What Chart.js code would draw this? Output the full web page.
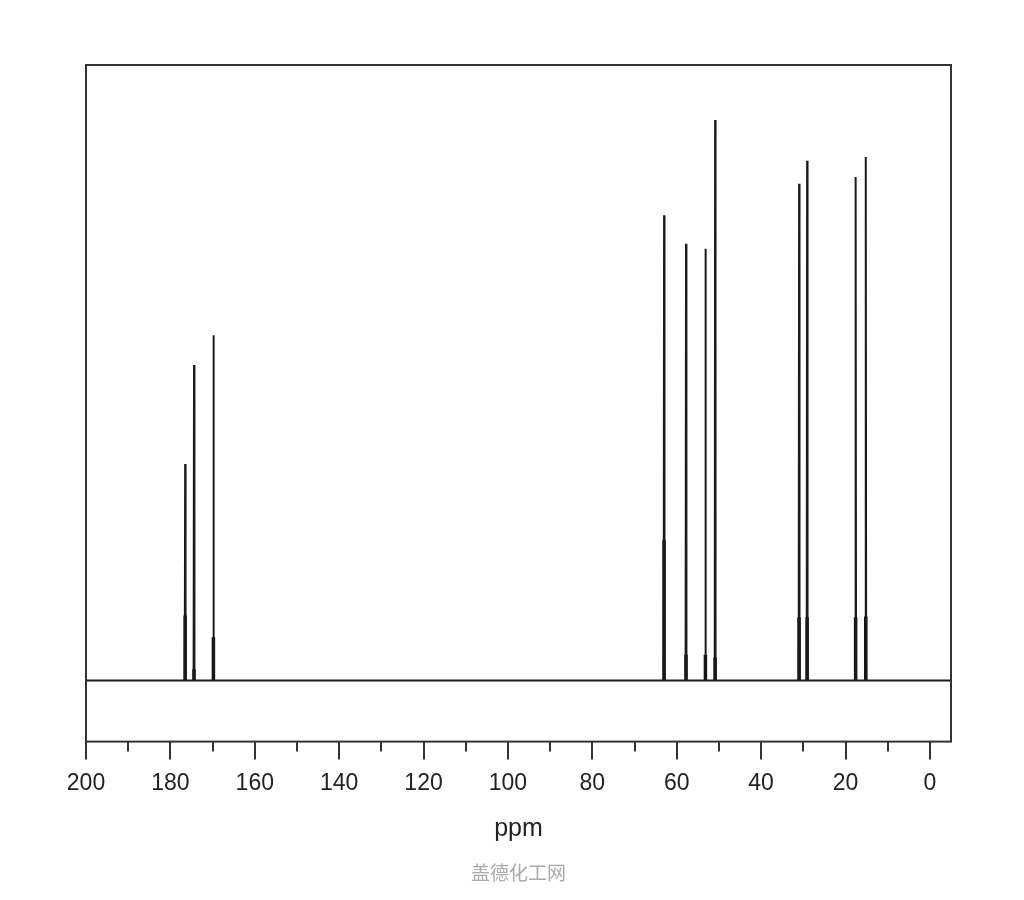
<!DOCTYPE html>
<html>
<head>
<meta charset="utf-8">
<script src="https://cdn.jsdelivr.net/npm/chart.js@4/dist/chart.umd.min.js"></script>
<style>
  body { margin: 0; background: #fff; }
</style>
</head>
<body>
<canvas id="nmrChart" width="1024" height="900"></canvas>
<script>
// 13C peaks (ppm) and relative heights (tallest = 100)
const peakPpm = [176.5, 174.4, 169.8, 63.0, 57.8, 53.2, 50.9, 31.0, 29.1, 17.6, 15.2];
const peakHeight = [38.6, 56.3, 61.6, 83.0, 77.9, 77.0, 100, 88.6, 92.7, 89.8, 93.4];
// heavier base part of each peak
const peakFoot = [11.6, 2.0, 7.7, 25.0, 4.6, 4.6, 4.1, 11.3, 11.3, 11.3, 11.4];
const ppmRange = [200, -5];
const xTicks = [200, 180, 160, 140, 120, 100, 80, 60, 40, 20, 0];

const spectrum = [{ x: ppmRange[0], y: 0 }];
peakPpm.forEach((p, i) => {
    spectrum.push({ x: p + 0.1, y: 0 }, { x: p, y: peakHeight[i] }, { x: p - 0.1, y: 0 });
});
spectrum.push({ x: ppmRange[1], y: 0 });

const feet = [];
peakPpm.forEach((p, i) => {
    feet.push({ x: p, y: 0 }, { x: p, y: peakFoot[i] }, { x: p, y: null });
});

// box round the plot + short minor ticks between the labelled ones
const framePlugin = {
    id: 'frame',
    afterDraw(chart) {
        const { ctx, chartArea } = chart;
        const xs = chart.scales.x;
        ctx.save();
        ctx.strokeStyle = '#333';
        ctx.lineWidth = 2;
        ctx.strokeRect(chartArea.left, chartArea.top, chartArea.right - chartArea.left, chartArea.bottom - chartArea.top);
        ctx.beginPath();
        for (let i = 0; i < xTicks.length - 1; i++) {
            const px = Math.round(xs.getPixelForValue((xTicks[i] + xTicks[i + 1]) / 2));
            ctx.moveTo(px, chartArea.bottom);
            ctx.lineTo(px, chartArea.bottom + 10);
        }
        ctx.stroke();
        ctx.restore();
    }
};

const ctx = document.getElementById('nmrChart').getContext('2d');
const nmrChart = new Chart(ctx, {
    type: 'line',
    data: {
        datasets: [{
            data: spectrum,
            borderColor: '#1a1a1a',
            borderWidth: 2,
            pointRadius: 0,
            tension: 0
        }, {
            data: feet,
            borderColor: '#111',
            borderWidth: 3.5,
            pointRadius: 0,
            spanGaps: false
        }]
    },
    options: {
        responsive: false,
        animation: false,
        layout: {
            padding: { left: 86, right: 73, top: 65, bottom: 0 }
        },
        plugins: {
            legend: { display: false },
            tooltip: { enabled: false },
            title: {
                display: true,
                position: 'bottom',
                text: '盖德化工网',
                color: '#aaa',
                font: { family: '"Noto Sans CJK SC"', size: 19, weight: 'normal' },
                padding: { top: 0, bottom: 16 }
            }
        },
        scales: {
            x: {
                type: 'linear',
                reverse: true,
                min: ppmRange[1],
                max: ppmRange[0],
                afterBuildTicks: (scale) => {
                    scale.ticks = xTicks.map(v => ({ value: v }));
                },
                ticks: {
                    includeBounds: false,
                    maxRotation: 0,
                    autoSkip: false,
                    padding: 10,
                    color: '#222',
                    font: { family: '"Liberation Sans", Arial, sans-serif', size: 23 }
                },
                grid: {
                    display: true,
                    drawOnChartArea: false,
                    drawTicks: true,
                    tickLength: 18,
                    color: '#333',
                    lineWidth: 2
                },
                border: { display: false },
                title: {
                    display: true,
                    text: 'ppm',
                    color: '#222',
                    font: { family: '"Liberation Sans", Arial, sans-serif', size: 25 },
                    padding: { top: 7, bottom: 17 }
                }
            },
            y: {
                display: false,
                min: -10.9,
                max: 109.8
            }
        }
    },
    plugins: [framePlugin]
});
</script>
</body>
</html>
